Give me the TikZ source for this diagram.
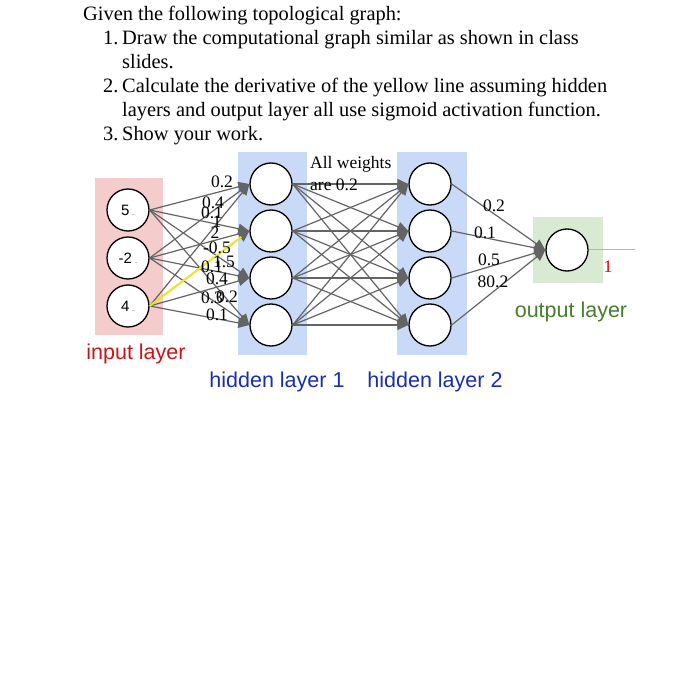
\documentclass[tikz,border=0pt]{standalone}
\usepackage{fontspec}
\setmainfont{Liberation Serif}
\setsansfont{Liberation Sans}
\usetikzlibrary{arrows.meta}
\definecolor{inbox}{RGB}{244,204,204}
\definecolor{hidbox}{RGB}{201,218,248}
\definecolor{outbox}{RGB}{217,234,211}
\definecolor{edgegray}{RGB}{100,100,100}
\definecolor{inred}{RGB}{204,20,20}
\definecolor{hidblue}{RGB}{25,45,175}
\definecolor{outgreen}{RGB}{70,125,45}
\definecolor{hiline}{RGB}{232,232,40}

\begin{document}
\begin{tikzpicture}[x=1pt,y=-1pt,
    neuron/.style={circle,draw,line width=1.3pt,fill=white,minimum size=42pt,inner sep=0pt},
    wt/.style={inner sep=0pt,font=\fontsize{17.5}{17.5}\selectfont},
    link/.style={draw=edgegray,line width=1.2pt,-{Triangle[length=11pt,width=10pt]}},
    txt/.style={anchor=base west,inner sep=0pt,font=\fontsize{20.4}{24}\selectfont},
    layer/.style={inner sep=0pt,font=\sffamily\fontsize{21.5}{21.5}\selectfont}]
  \useasboundingbox (0,0) rectangle (690,700);
  % question text
  \node[txt] (t0) at (83,21) {Given the following topological graph:};
  \node[txt] (n1) at (103,45) {1.};
  \node[txt] (t1) at (122,45) {Draw the computational graph similar as shown in class};
  \node[txt] (t2) at (122,69) {slides.};
  \node[txt] (n2) at (103,93) {2.};
  \node[txt] (t3) at (122,93) {Calculate the derivative of the yellow line assuming hidden};
  \node[txt] (t4) at (122,117) {layers and output layer all use sigmoid activation function.};
  \node[txt] (n3) at (103,141) {3.};
  \node[txt] (t5) at (122,141) {Show your work.};
  % layer boxes
  \fill[inbox] (95,178) rectangle (163,335);
  \fill[hidbox] (238,152) rectangle (307,355);
  \fill[hidbox] (397,152) rectangle (467,355);
  \fill[outbox] (533,217) rectangle (603,283);
  % neurons
  \node[neuron,font=\sffamily\fontsize{15}{15}\selectfont] (i1) at (128,210) {5\,{\tiny ..}};
  \node[neuron,font=\sffamily\fontsize{15}{15}\selectfont] (i2) at (128,258) {-2\,{\tiny ..}};
  \node[neuron,font=\sffamily\fontsize{15}{15}\selectfont] (i3) at (128,306) {4\,{\tiny ..}};
  \foreach \j/\y in {1/184,2/231,3/278,4/325} {
    \node[neuron] (a\j) at (271,\y) {};
    \node[neuron] (b\j) at (430,\y) {};
  }
  \node[neuron] (o) at (567,250) {};
  % connections
  \foreach \i in {1,2,3}
    \foreach \j in {1,...,4}
      \draw[link] (i\i.east) -- (a\j.west);
  \foreach \i in {1,...,4}
    \foreach \j in {1,...,4}
      \draw[link] (a\i.east) -- (b\j.west);
  \foreach \i in {1,...,4}
    \draw[link] (b\i.east) -- (o.west);
  \draw[hiline,line width=2pt,shorten >=10pt] (i3.east) -- (a2.west);
  \coordinate (oend) at (635,250);
  \draw[hidbox!60!gray,line width=1pt] (o.east) -- (oend);
  % weights
  \node[wt] (w1) at (222,182) {0.2};
  \node[wt] (w2) at (213,203) {0.4};
  \node[wt] (w3) at (212,213) {0.1};
  \node[wt] (w4) at (217,222) {1};
  \node[wt] (w5) at (215,233) {2};
  \node[wt] (w6) at (217,248) {-0.5};
  \node[wt] (w7) at (224,262) {1.5};
  \node[wt] (w8) at (212,267) {0.1};
  \node[wt] (w9) at (217,279) {0.4};
  \node[wt] (w10) at (212,298) {0.3};
  \node[wt] (w11) at (227,297) {0.2};
  \node[wt] (w12) at (217,315) {0.1};
  \node[wt,align=left,anchor=north west,font=\fontsize{17.5}{22}\selectfont] (all) at (310,156) {All weights\\are 0.2};
  \node[wt] (v1) at (494,206) {0.2};
  \node[wt] (v2) at (485,233) {0.1};
  \node[wt] (v3) at (489,260) {0.5};
  \node[wt] (v4) at (493,282) {80.2};
  \node[wt,text=red!85!black] (y) at (608,267) {1};
  % layer names
  \node[layer,text=inred] (lin) at (136,354) {input layer};
  \node[layer,text=hidblue] (lh1) at (277,382) {hidden layer 1};
  \node[layer,text=hidblue] (lh2) at (435,382) {hidden layer 2};
  \node[layer,text=outgreen] (lout) at (571,312) {output layer};
\end{tikzpicture}
\end{document}
